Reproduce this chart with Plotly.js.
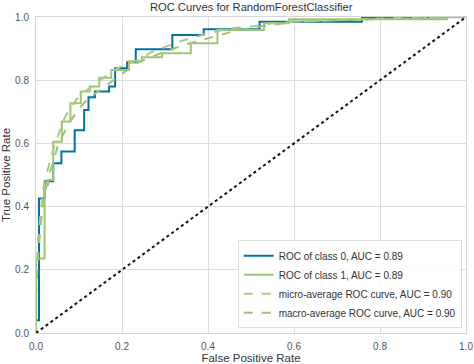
<!DOCTYPE html>
<html>
<head>
<meta charset="utf-8">
<script src="https://cdn.plot.ly/plotly-3.0.1.min.js"></script>
<style>html,body{margin:0;padding:0;background:#fff;}#chart{width:474px;height:364px;}</style>
</head>
<body>
<div id="chart"></div>
<script>
// Class 0 ROC (blue)
var class0FPR = [0, 0, 0.007, 0.007, 0.02, 0.02, 0.04, 0.04, 0.059, 0.059, 0.09, 0.09, 0.112, 0.112, 0.122, 0.122, 0.137, 0.137, 0.17, 0.17, 0.184, 0.184, 0.212, 0.212, 0.232, 0.232, 0.317, 0.317, 0.39, 0.39, 0.52, 0.52, 0.758, 0.758, 1];
var class0TPR = [0, 0.04, 0.04, 0.426, 0.426, 0.48, 0.48, 0.537, 0.537, 0.574, 0.574, 0.642, 0.642, 0.706, 0.706, 0.746, 0.746, 0.764, 0.764, 0.78, 0.78, 0.838, 0.838, 0.857, 0.857, 0.898, 0.898, 0.943, 0.943, 0.961, 0.961, 0.985, 0.985, 0.997, 1];
// Class 1 ROC (green)
var class1FPR = [0, 0, 0.02, 0.02, 0.028, 0.028, 0.04, 0.04, 0.06, 0.06, 0.08, 0.08, 0.104, 0.104, 0.125, 0.125, 0.147, 0.147, 0.175, 0.175, 0.216, 0.216, 0.246, 0.246, 0.293, 0.293, 0.36, 0.36, 0.422, 0.422, 0.53, 0.53, 0.588, 0.588, 0.956, 0.956, 1];
var class1TPR = [0, 0.236, 0.236, 0.468, 0.468, 0.484, 0.484, 0.605, 0.605, 0.669, 0.669, 0.727, 0.727, 0.764, 0.764, 0.78, 0.78, 0.808, 0.808, 0.832, 0.832, 0.86, 0.86, 0.873, 0.873, 0.885, 0.885, 0.917, 0.917, 0.959, 0.959, 0.98, 0.98, 0.993, 0.993, 1, 1];
// Micro-average ROC
var microFPR = [0, 0, 0.005, 0.01, 0.015, 0.02, 0.03, 0.04, 0.05, 0.06, 0.07, 0.08, 0.09, 0.1, 0.12, 0.14, 0.16, 0.18, 0.2, 0.22, 0.24, 0.27, 0.3, 0.34, 0.38, 0.42, 0.46, 0.5, 0.55, 0.6, 0.7, 0.8, 0.9, 1];
var microTPR = [0, 0.16, 0.3, 0.38, 0.44, 0.48, 0.53, 0.58, 0.62, 0.66, 0.69, 0.71, 0.73, 0.75, 0.77, 0.79, 0.81, 0.83, 0.845, 0.855, 0.865, 0.89, 0.905, 0.925, 0.94, 0.955, 0.965, 0.97, 0.98, 0.985, 0.99, 0.995, 1, 1];
// Macro-average ROC
var macroFPR = [0, 0, 0.005, 0.01, 0.02, 0.03, 0.04, 0.05, 0.06, 0.08, 0.1, 0.12, 0.14, 0.17, 0.2, 0.23, 0.26, 0.3, 0.34, 0.38, 0.42, 0.46, 0.5, 0.55, 0.6, 0.7, 0.8, 0.9, 1];
var macroTPR = [0, 0.12, 0.24, 0.33, 0.44, 0.5, 0.54, 0.59, 0.62, 0.67, 0.71, 0.74, 0.76, 0.79, 0.82, 0.85, 0.87, 0.89, 0.91, 0.925, 0.94, 0.955, 0.965, 0.975, 0.985, 0.99, 0.993, 0.997, 1];
// Chance line
var chanceX = [0, 1];
var chanceY = [0, 1];

var seriesNames = ["ROC of class 0, AUC = 0.89", "ROC of class 1, AUC = 0.89", "micro-average ROC curve, AUC = 0.90", "macro-average ROC curve, AUC = 0.90"];
var tickVals = [0, 0.2, 0.4, 0.6, 0.8, 1.0];
var tickText = ["0.0", "0.2", "0.4", "0.6", "0.8", "1.0"];

var font = "Liberation Sans, Arial, sans-serif";

var traces = [
  {x: class0FPR, y: class0TPR, mode: "lines", name: seriesNames[0], line: {color: "#0272a2", width: 2}},
  {x: class1FPR, y: class1TPR, mode: "lines", name: seriesNames[1], line: {color: "#9fc377", width: 2}},
  {x: microFPR, y: microTPR, mode: "lines", name: seriesNames[2], line: {color: "#a9cc7e", width: 2, dash: "dash"}},
  {x: macroFPR, y: macroTPR, mode: "lines", name: seriesNames[3], line: {color: "#9fc377", width: 2, dash: "dash"}},
  {x: chanceX, y: chanceY, mode: "lines", showlegend: false, line: {color: "#111111", width: 2, dash: "dot"}}
];

var axisCommon = {
  range: [0, 1],
  tickvals: tickVals,
  ticktext: tickText,
  showgrid: true,
  gridcolor: "#dcdcdc",
  gridwidth: 1,
  zeroline: false,
  showline: true,
  mirror: true,
  linecolor: "#d4d4d4",
  linewidth: 1,
  ticks: "outside",
  ticklen: 4,
  tickcolor: "rgba(0,0,0,0)",
  tickfont: {family: font, size: 10, color: "#555555"},
  fixedrange: true
};

var layout = {
  width: 474,
  height: 364,
  margin: {l: 36, r: 8, t: 17, b: 31},
  paper_bgcolor: "#ffffff",
  plot_bgcolor: "#ffffff",
  font: {family: font, color: "#333333"},
  title: {text: "ROC Curves for RandomForestClassifier", font: {family: font, size: 11.2, color: "#333333"}, x: 0.53, xanchor: "center", y: 0.99, yanchor: "top"},
  xaxis: Object.assign({}, axisCommon, {title: {text: "False Positive Rate", font: {family: font, size: 11.5, color: "#333333"}, standoff: 2}}),
  yaxis: Object.assign({}, axisCommon, {title: {text: "True Positive Rate", font: {family: font, size: 11.5, color: "#333333"}, standoff: 4}}),
  showlegend: true,
  legend: {
    x: 0.99, y: 0.015, xanchor: "right", yanchor: "bottom",
    bgcolor: "rgba(255,255,255,0.85)",
    bordercolor: "#dddddd", borderwidth: 1,
    font: {family: font, size: 10, color: "#333333"},
    tracegroupgap: 0
  }
};

Plotly.newPlot("chart", traces, layout, {displayModeBar: false, staticPlot: true});
</script>
</body>
</html>
